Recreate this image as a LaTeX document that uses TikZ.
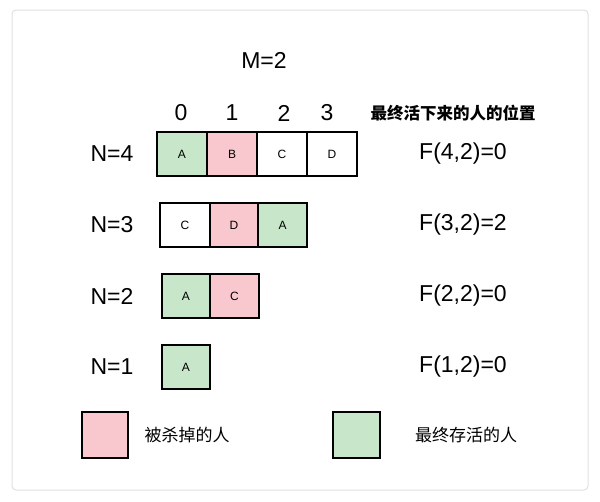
\documentclass[tikz,border=0pt]{standalone}
\usepackage{fontspec}
\setmainfont{Liberation Sans}
\newfontfamily\cjk{Noto Sans CJK SC}
\begin{document}
\begin{tikzpicture}[x=1pt,y=-1pt,
  cell/.style={draw=black,line width=1.2pt,minimum width=#1,minimum height=44pt,inner sep=0pt,font=\fontsize{12}{14}\selectfont},
  lbl/.style={font=\fontsize{23}{25}\selectfont},
  pk/.style={fill={rgb,255:red,248;green,200;blue,206}},
  gn/.style={fill={rgb,255:red,200;green,230;blue,201}}]
\useasboundingbox (0,0) rectangle (600,501);
\draw[draw=black!12,line width=1pt,rounded corners=4pt] (12,10) rectangle (588,490);
\node[lbl] (m) at (264,60) {M=2};
\foreach \x/\t in {181/0,232/1,284/2,327/3} \node[lbl] (c\t) at (\x,113) {\t};
\node[font=\cjk\bfseries\fontsize{16.5}{18}\selectfont] (hdr) at (453,113) {最终活下来的人的位置};
% N=4
\node[lbl] (n4) at (112,154) {N=4};
\node[cell=50pt,gn] (a4) at (182,154) {A};
\node[cell=50pt,pk] (b4) at (232,154) {B};
\node[cell=50pt] (cc4) at (282,154) {C};
\node[cell=50pt] (d4) at (332,154) {D};
\node[lbl] (f4) at (463,154) {F(4,2)=0};
% N=3
\node[lbl] (n3) at (112,225) {N=3};
\node[cell=50pt] (c3) at (185,225) {C};
\node[cell=48pt,pk] (d3) at (234,225) {D};
\node[cell=49pt,gn] (a3) at (282.5,225) {A};
\node[lbl] (f3) at (463,225) {F(3,2)=2};
% N=2
\node[lbl] (n2) at (112,296) {N=2};
\node[cell=48pt,gn] (a2) at (186,296) {A};
\node[cell=49pt,pk] (c2) at (234.5,296) {C};
\node[lbl] (f2) at (463,296) {F(2,2)=0};
% N=1
\node[lbl] (n1) at (112,367) {N=1};
\node[cell=48pt,gn] (a1) at (186,367) {A};
\node[lbl] (f1) at (463,367) {F(1,2)=0};
% legend
\node[cell=46pt,minimum height=46pt,pk] (lk) at (105,435) {};
\node[font=\cjk\fontsize{17}{19}\selectfont] (tk) at (187,435) {被杀掉的人};
\node[cell=47pt,minimum height=46pt,gn] (ls) at (356.5,435) {};
\node[font=\cjk\fontsize{17}{19}\selectfont] (ts) at (466,435) {最终存活的人};
\end{tikzpicture}
\end{document}
